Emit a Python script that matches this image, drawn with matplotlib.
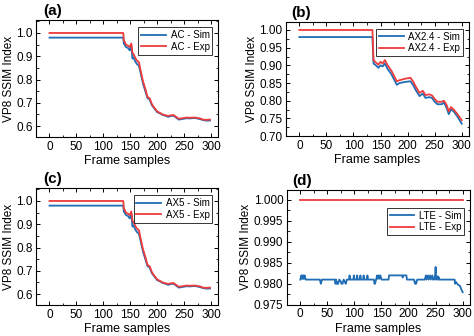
import matplotlib
matplotlib.use("Agg")
import matplotlib.pyplot as plt
from matplotlib.ticker import MultipleLocator, AutoMinorLocator

# (a) AC / (c) AX5  -- frame index vs VP8 SSIM
ac_x = [0, 137, 138, 142, 146, 149, 152, 154, 156, 160, 163, 166, 170, 174, 178, 182, 186,
        190, 195, 200, 205, 210, 215, 220, 225, 230, 235, 240, 245, 250, 255, 260, 270,
        280, 285, 290, 298]
ac_sim = [0.98, 0.98, 0.955, 0.94, 0.935, 0.925, 0.945, 0.89, 0.895, 0.875, 0.865, 0.86,
          0.82, 0.78, 0.75, 0.72, 0.715, 0.69, 0.675, 0.66, 0.655, 0.648, 0.645, 0.64,
          0.643, 0.645, 0.637, 0.628, 0.63, 0.632, 0.634, 0.633, 0.635, 0.63, 0.626,
          0.624, 0.624]
ac_exp = [1.0, 1.0, 0.97, 0.95, 0.945, 0.94, 0.955, 0.915, 0.91, 0.89, 0.88, 0.875,
          0.83, 0.79, 0.76, 0.725, 0.72, 0.695, 0.678, 0.663, 0.657, 0.65, 0.647, 0.644,
          0.646, 0.648, 0.64, 0.632, 0.633, 0.635, 0.637, 0.636, 0.637, 0.633, 0.628,
          0.627, 0.628]

# (b) AX2.4
ax24_x = [0, 135, 137, 140, 146, 150, 154, 158, 163, 170, 175, 180, 185, 195, 205, 210,
          215, 222, 228, 233, 240, 245, 250, 255, 263, 267, 272, 276, 280, 285, 292, 300]
ax24_sim = [0.98, 0.98, 0.905, 0.902, 0.893, 0.9, 0.897, 0.905, 0.89, 0.875, 0.86, 0.845,
            0.85, 0.853, 0.855, 0.845, 0.83, 0.813, 0.82, 0.808, 0.81, 0.808, 0.797, 0.79,
            0.79, 0.795, 0.78, 0.762, 0.775, 0.77, 0.755, 0.735]
ax24_exp = [1.0, 1.0, 0.915, 0.91, 0.902, 0.91, 0.905, 0.915, 0.9, 0.885, 0.87, 0.855,
            0.858, 0.862, 0.865, 0.855, 0.84, 0.822, 0.828, 0.816, 0.818, 0.815, 0.805,
            0.797, 0.797, 0.8, 0.788, 0.77, 0.782, 0.775, 0.762, 0.745]

# (d) LTE
lte_x = [0, 2, 3, 4, 5, 6, 7, 8, 9, 10, 36, 37, 38, 39, 40, 64, 65, 66, 67, 68, 69, 70,
         72, 75, 76, 78, 80, 82, 84, 86, 90, 91, 92, 98, 99, 100, 104, 105, 106, 110, 111,
         112, 116, 117, 118, 123, 124, 125, 132, 136, 137, 138, 140, 142, 143, 145, 146,
         148, 150, 163, 164, 188, 189, 190, 196, 197, 210, 212, 213, 214, 216, 230, 232,
         233, 236, 237, 240, 241, 244, 245, 247, 249, 250, 251, 252, 253, 254, 255, 256,
         257, 260, 285, 286, 287, 290, 291, 295, 298, 300]
lte_sim = [0.981, 0.982, 0.9812, 0.982, 0.9812, 0.982, 0.9812, 0.982, 0.9815, 0.981,
           0.981, 0.9805, 0.98, 0.9805, 0.981, 0.981, 0.980, 0.981, 0.980, 0.9805, 0.980,
           0.980, 0.981, 0.9805, 0.980, 0.980, 0.981, 0.9805, 0.980, 0.981, 0.981, 0.982,
           0.981, 0.981, 0.982, 0.981, 0.981, 0.982, 0.981, 0.981, 0.982, 0.981, 0.981,
           0.982, 0.981, 0.981, 0.982, 0.981, 0.981, 0.981, 0.980, 0.980, 0.981, 0.982,
           0.9812, 0.982, 0.9812, 0.982, 0.981, 0.981, 0.982, 0.982, 0.9815, 0.982, 0.982,
           0.981, 0.981, 0.980, 0.9805, 0.980, 0.981, 0.981, 0.982, 0.981, 0.982, 0.981,
           0.982, 0.981, 0.982, 0.981, 0.981, 0.982, 0.984, 0.981, 0.9815, 0.981, 0.9818,
           0.981, 0.9815, 0.981, 0.981, 0.981, 0.980, 0.9805, 0.980, 0.9798, 0.9795,
           0.9785, 0.978]
lte_exp_x = [0, 300]
lte_exp = [1.0, 1.0]

BLUE = "#1f6db4"
RED = "#ee3b3b"

plt.rcParams["font.family"] = ["Liberation Sans", "DejaVu Sans"]

fig = plt.figure(figsize=(4.74, 3.36), dpi=100)

panels = [
    # label, rect, xs_sim, sim, xs_exp, exp, name, ylim, ymajor, fmt, legend anchor
    ("(a)", [0.076, 0.592, 0.384, 0.348], ac_x, ac_sim, ac_x, ac_exp, "AC",
     (0.553, 1.055), 0.1, "%.1f", (0.98, 0.955)),
    ("(b)", [0.603, 0.595, 0.386, 0.340], ax24_x, ax24_sim, ax24_x, ax24_exp, "AX2.4",
     (0.70, 1.023), 0.05, "%.2f", (0.98, 0.955)),
    ("(c)", [0.076, 0.092, 0.384, 0.348], ac_x, ac_sim, ac_x, ac_exp, "AX5",
     (0.553, 1.055), 0.1, "%.1f", (0.98, 0.955)),
    ("(d)", [0.605, 0.093, 0.386, 0.342], lte_x, lte_sim, lte_exp_x, lte_exp, "LTE",
     (0.975, 1.0024), 0.005, "%.3f", (0.98, 0.86)),
]

for lab, rect, xs, sim, xe, exp, name, ylim, ymaj, fmt, anchor in panels:
    ax = fig.add_axes(rect)
    ax.plot(xs, sim, color=BLUE, lw=1.3, label=f"{name} - Sim")
    ax.plot(xe, exp, color=RED, lw=1.3, label=f"{name} - Exp")
    ax.set_xlim(-25, 313)
    ax.set_ylim(*ylim)
    ax.xaxis.set_major_locator(MultipleLocator(50))
    ax.yaxis.set_major_locator(MultipleLocator(ymaj))
    ax.yaxis.set_major_formatter(matplotlib.ticker.FormatStrFormatter(fmt))
    ax.xaxis.set_minor_locator(AutoMinorLocator(2))
    ax.yaxis.set_minor_locator(AutoMinorLocator(2))
    ax.tick_params(which="both", direction="in", top=True, right=True, labelsize=8.5,
                   pad=2.5)
    ax.tick_params(which="major", length=3, width=0.7)
    ax.tick_params(which="minor", length=1.8, width=0.6)
    for sp in ax.spines.values():
        sp.set_linewidth(0.8)
    ax.set_xlabel("Frame samples", fontsize=9, labelpad=2)
    ax.set_ylabel("VP8 SSIM Index", fontsize=8.5, labelpad=1)
    leg = ax.legend(loc="upper right", bbox_to_anchor=anchor, fontsize=7,
                    frameon=True, fancybox=False, edgecolor="black",
                    handlelength=2.5, borderpad=0.3, labelspacing=0.15,
                    handletextpad=0.5, borderaxespad=0.2)
    leg.get_frame().set_linewidth(0.7)
    ax.text(0.04 if lab in ("(a)", "(c)") else 0.03, 1.02, lab,
            transform=ax.transAxes, fontsize=11, fontweight="bold",
            ha="left", va="bottom")

fig.savefig("out.png", dpi=100)
